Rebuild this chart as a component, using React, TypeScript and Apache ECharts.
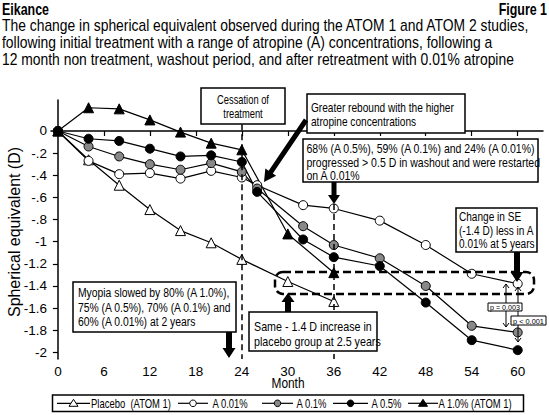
import React, { useEffect, useRef } from "react";
import * as echarts from "echarts";

const FONT = "'Liberation Sans', Arial, sans-serif";

// ---- data ----
const monthsAtom1 = [0, 4, 8, 12, 16, 20, 24, 30, 36];
const monthsAtom2 = [0, 4, 8, 12, 16, 20, 24, 26, 32, 36, 42, 48, 54, 60];
const placebo = [0, -0.26, -0.49, -0.71, -0.9, -1.01, -1.16, -1.36, -1.54];
const a001 = [0, -0.27, -0.39, -0.38, -0.43, -0.36, -0.42, -0.49, -0.67, -0.7, -0.81, -1.03, -1.29, -1.38];
const a01 = [0, -0.14, -0.23, -0.3, -0.35, -0.29, -0.37, -0.52, -0.86, -1.03, -1.15, -1.4, -1.76, -1.82];
const a05 = [0, -0.07, -0.09, -0.16, -0.23, -0.22, -0.28, -0.55, -0.98, -1.14, -1.22, -1.55, -1.89, -1.98];
const a10 = [0, 0.21, 0.2, 0.1, -0.01, -0.11, -0.17, -0.93, -1.28];
const seriesNames = ["Placebo  (ATOM 1)", "A 0.01%", "A 0.1%", "A 0.5%", "A 1.0% (ATOM 1)"];
const xTicks = [0, 6, 12, 18, 24, 30, 36, 42, 48, 54, 60];
const yTicks = [0, -0.2, -0.4, -0.6, -0.8, -1, -1.2, -1.4, -1.6, -1.8, -2];

const zip = (xs: number[], ys: number[]) => xs.map((x, i) => [x, ys[i]]);

let ctx: CanvasRenderingContext2D | null = null;
function measure(t: string, size: number, weight = "normal") {
  if (!ctx) ctx = document.createElement("canvas").getContext("2d");
  ctx!.font = `${weight} ${size}px ${FONT}`;
  return ctx!.measureText(t).width;
}

function txt(t: string, x: number, y: number, size: number, scale: number, align = "left", weight = "normal", z = 16, rotation = 0) {
  return {
    type: "text", x, y, scaleX: scale, z, rotation,
    style: { text: t, x: 0, y: 0, fill: "#000", fontSize: size, fontFamily: FONT, fontWeight: weight, align, verticalAlign: "middle" },
  };
}

// scale such that `ref` text at `size` spans `width`
const fit = (ref: string, size: number, width: number, weight = "normal") => width / measure(ref, size, weight);

function arrowPts(x1: number, y1: number, x2: number, y2: number, sw: number, hw: number, hl: number) {
  const dx = x2 - x1, dy = y2 - y1;
  const L = Math.sqrt(dx * dx + dy * dy);
  const ux = dx / L, uy = dy / L;
  const px = -uy, py = ux;
  const bx = x2 - ux * hl, by = y2 - uy * hl;
  return [
    [x1 + px * sw / 2, y1 + py * sw / 2],
    [bx + px * sw / 2, by + py * sw / 2],
    [bx + px * hw / 2, by + py * hw / 2],
    [x2, y2],
    [bx - px * hw / 2, by - py * hw / 2],
    [bx - px * sw / 2, by - py * sw / 2],
    [x1 - px * sw / 2, y1 - py * sw / 2],
  ];
}

function thickArrow(x1: number, y1: number, x2: number, y2: number, sw = 5, hw = 12, hl = 10) {
  return { type: "polygon", shape: { points: arrowPts(x1, y1, x2, y2, sw, hw, hl) }, style: { fill: "#000" }, z: 20 };
}

function box(x: number, y: number, w: number, h: number, lines: string[], lineYs: number[], tx: number, scale: number, fs = 12, align = "left") {
  const els: any[] = [
    { type: "rect", shape: { x, y, width: w, height: h }, style: { fill: "#fff", stroke: "#000", lineWidth: 1.5 }, z: 15 },
  ];
  lines.forEach((t, i) => els.push(txt(t, tx, lineYs[i], fs, scale, align)));
  return els;
}

function thinDoubleArrow(x: number, y1: number, y2: number) {
  const h = 4, w = 3;
  return [
    { type: "line", shape: { x1: x, y1, x2: x, y2 }, style: { stroke: "#000", lineWidth: 1 }, z: 20 },
    { type: "polyline", shape: { points: [[x - w, y1 + h], [x, y1], [x + w, y1 + h]] }, style: { stroke: "#000", lineWidth: 1, fill: "none" }, z: 20 },
    { type: "polyline", shape: { points: [[x - w, y2 - h], [x, y2], [x + w, y2 - h]] }, style: { stroke: "#000", lineWidth: 1, fill: "none" }, z: 20 },
  ];
}

function smallBox(x: number, y: number, w: number, h: number, t: string) {
  return [
    { type: "rect", shape: { x, y, width: w, height: h }, style: { fill: "#fff", stroke: "#000", lineWidth: 1 }, z: 21 },
    txt(t, x + w / 2, y + h / 2 + 0.5, 8, fit(t, 8, w - 4), "center", "normal", 22),
  ];
}

function legendItems() {
  const y = 403.3;
  const els: any[] = [
    { type: "rect", shape: { x: 52.5, y: 395, width: 471, height: 16.5 }, style: { fill: "#fff", stroke: "#000", lineWidth: 1.5 }, z: 15 },
  ];
  const sc = fit(seriesNames[0], 12.5, 80);
  const icons = [
    { x1: 57, x2: 90, tx: 91, sym: "tri", fill: "#fff" },
    { x1: 178, x2: 208, tx: 212.5, sym: "circ", fill: "#fff" },
    { x1: 262, x2: 293, tx: 296.5, sym: "circ", fill: "#888" },
    { x1: 333, x2: 368, tx: 371.5, sym: "circ", fill: "#000" },
    { x1: 408, x2: 438, tx: 438.5, sym: "tri", fill: "#000" },
  ];
  icons.forEach((ic, i) => {
    const cx = (ic.x1 + ic.x2) / 2;
    els.push({ type: "line", shape: { x1: ic.x1, y1: y, x2: ic.x2, y2: y }, style: { stroke: "#000", lineWidth: 1.2 }, z: 16 });
    if (ic.sym === "circ") {
      els.push({ type: "circle", shape: { cx, cy: y, r: 3.3 }, style: { fill: ic.fill, stroke: "#000", lineWidth: 1 }, z: 17 });
    } else {
      els.push({ type: "polygon", shape: { points: [[cx, y - 4], [cx + 4.5, y + 3], [cx - 4.5, y + 3]] }, style: { fill: ic.fill, stroke: "#000", lineWidth: 1 }, z: 17 });
    }
    els.push(txt(seriesNames[i], ic.tx, y, 12.5, sc));
  });
  return els;
}

export default function App() {
  const ref = useRef<HTMLDivElement>(null);
  useEffect(() => {
    document.body.style.margin = "0";
    const chart = echarts.init(ref.current!, null, { renderer: "svg" });
    const lineStyle = { color: "#000", width: 1.2 };
    const mk = (name: string, data: number[][], symbol: string, fill: string, size: number, extra: any = {}) => ({
      name, type: "line", data, symbol, symbolSize: size, showSymbol: true,
      lineStyle, itemStyle: { color: fill, borderColor: "#000", borderWidth: 1 },
      ...extra,
    });
    const titleLine1 = "The change in spherical equivalent observed during the ATOM 1 and ATOM 2 studies,";
    const tScale = fit(titleLine1, 16, 528);
    const hScale = fit("Eikance", 16, 47, "bold");
    const graphic: any[] = [
      txt("Eikance", 2, 9, 16, hScale, "left", "bold"),
      txt("Figure 1", 547, 9, 16, hScale, "right", "bold"),
      txt(titleLine1, 2, 25, 16, tScale),
      txt("following initial treatment with a range of atropine (A) concentrations, following a", 2, 42, 16, tScale),
      txt("12 month non treatment, washout period, and after retreatment with 0.01% atropine", 2, 59, 16, tScale),
      txt("Month", 288, 383, 14, 0.85, "center"),
      {
        type: "text", x: 14, y: 232, rotation: Math.PI / 2, scaleX: fit("Spherical equivalent (D)", 16, 170), z: 16,
        style: { text: "Spherical equivalent (D)", x: 0, y: 0, fill: "#000", fontSize: 16, fontFamily: FONT, align: "center", verticalAlign: "middle" },
      },
      ...box(201, 88, 84, 36, ["Cessation of", "treatment"], [99.5, 113], 243, fit("Cessation of", 12.5, 52), 12.5, "center"),
      ...box(307, 94, 158, 39, ["Greater rebound with the higher", "atropine concentrations"], [107.5, 121.5], 311, fit("Greater rebound with the higher", 12.5, 143), 12.5),
      thickArrow(306, 120, 264, 182, 5, 13, 12),
      ...box(303, 139, 235, 43, ["68% (A 0.5%), 59% (A 0.1%) and 24% (A 0.01%)", "progressed > 0.5 D in washout and were restarted", "on A 0.01%"], [149, 162.5, 176], 306.5, fit("68% (A 0.5%), 59% (A 0.1%) and 24% (A 0.01%)", 12.5, 230), 12.5),
      thickArrow(334, 182, 334, 204, 5, 12, 9),
      ...box(456, 208, 81, 44, ["Change in SE", "(-1.4 D) less in A", "0.01% at 5 years"], [216.5, 230.5, 244], 459, fit("(-1.4 D) less in A", 12.5, 75), 12.5),
      thickArrow(517, 252, 517, 282, 6, 13, 10),
      { type: "rect", shape: { x: 275, y: 272, width: 259, height: 22, r: 8 }, style: { fill: "none", stroke: "#000", lineWidth: 2.5, lineDash: [8, 4] }, z: 12 },
      ...box(73, 282, 163, 50, ["Myopia slowed by 80% (A 1.0%),", "75% (A 0.5%), 70% (A 0.1%) and", "60% (A 0.01%) at 2 years"], [293, 307.5, 322], 78, fit("Myopia slowed by 80% (A 1.0%),", 12.5, 152), 12.5),
      thickArrow(229, 332, 229, 358, 6, 13, 10),
      ...box(249, 312, 128, 39, ["Same - 1.4 D increase in", "placebo group at 2.5 years"], [326, 341], 254, fit("Same - 1.4 D increase in", 12.5, 118), 12.5),
      thickArrow(288, 312, 288, 293, 6, 13, 9),
      ...thinDoubleArrow(506, 284, 327),
      ...thinDoubleArrow(518, 287, 342),
      ...smallBox(488, 303, 34, 8, "p = 0.003"),
      ...smallBox(511, 316, 35, 9, "p < 0.001"),
      ...legendItems(),
    ];
    chart.setOption({
      animation: false,
      textStyle: { fontFamily: FONT },
      grid: { left: 51, right: 6, top: 100, bottom: 56, containLabel: false, outerBoundsMode: "none" },
      xAxis: {
        type: "value", min: -0.9, max: 63.3,
        splitLine: { show: false },
        axisLine: { lineStyle: { color: "#000", width: 1.5 } },
        axisTick: { customValues: xTicks, length: 5, lineStyle: { color: "#000", width: 1.2 } },
        axisLabel: { customValues: xTicks, color: "#000", fontSize: 13.5, margin: 5, fontFamily: FONT },
      },
      yAxis: {
        type: "value", min: -2.06, max: 0.28,
        splitLine: { show: false },
        axisLine: { lineStyle: { color: "#000", width: 1.5 } },
        axisTick: { customValues: yTicks, length: 5, lineStyle: { color: "#000", width: 1.2 } },
        axisLabel: {
          customValues: yTicks, color: "#000", fontSize: 13.5, margin: 4, fontFamily: FONT,
          formatter: (v: number) => String(Number(v.toFixed(1))).replace("-0.", "-."),
        },
      },
      series: [
        mk(seriesNames[0], zip(monthsAtom1, placebo), "triangle", "#fff", 10, {
          markLine: {
            silent: true, symbol: "none", label: { show: false },
            lineStyle: { color: "#000", type: [6, 4], width: 1.5 },
            data: [
              [{ coord: [24, 0.06] }, { coord: [24, -2.06] }],
              [{ coord: [36, -0.66] }, { coord: [36, -2.06] }],
            ],
          },
        }),
        mk(seriesNames[1], zip(monthsAtom2, a001), "circle", "#fff", 9),
        mk(seriesNames[2], zip(monthsAtom2, a01), "circle", "#888", 9),
        mk(seriesNames[3], zip(monthsAtom2, a05), "circle", "#000", 9),
        mk(seriesNames[4], zip(monthsAtom1, a10), "triangle", "#000", 10),
      ],
      graphic,
    });
    return () => chart.dispose();
  }, []);
  return <div ref={ref} style={{ width: 549, height: 415 }} />;
}
